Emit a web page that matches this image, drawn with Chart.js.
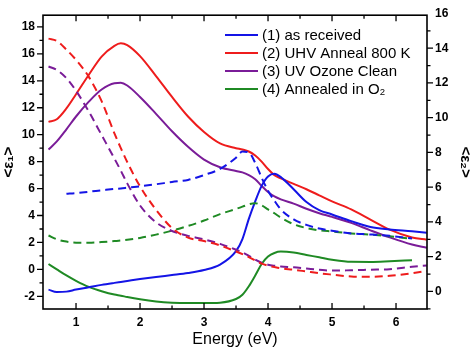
<!DOCTYPE html>
<html>
<head>
<meta charset="utf-8">
<script src="https://cdn.jsdelivr.net/npm/chart.js@4.4.1/dist/chart.umd.min.js"></script>
<style>
  html, body { margin: 0; padding: 0; background: #fff; }
  #wrap { width: 474px; height: 348px; position: relative; }
</style>
</head>
<body>
<div id="wrap"><canvas id="epsChart"></canvas></div>
<script>
// photon energy (eV) at which each curve was read
const energy = [0.57, 0.7, 0.85, 1.0, 1.2, 1.4, 1.6, 1.7, 1.8, 2.0, 2.25, 2.5, 2.75, 3.0, 3.25, 3.5,
                3.6, 3.7, 3.8, 3.9, 4.0, 4.1, 4.2, 4.4, 4.6, 4.8, 5.0, 5.3, 5.6, 5.9, 6.25, 6.48];

// <eps1>, left axis (solid)
const eps1Blue   = [-1.5, -1.68, -1.65, -1.5, -1.33, -1.15, -1.0, -0.93, -0.86, -0.72, -0.56, -0.42, -0.27, -0.05, 0.35, 1.35,
                    2.25, 3.75, 5.05, 6.2, 6.9, 7.1, 6.85, 5.95, 5.0, 4.4, 4.08, 3.58, 3.15, 2.97, 2.83, 2.72];
const eps1Red    = [10.95, 11.15, 11.95, 13.0, 14.45, 15.8, 16.6, 16.78, 16.65, 15.83, 14.35, 12.8, 11.35, 10.2, 9.35, 9.0,
                    8.9, 8.75, 8.45, 8.0, 7.45, 7.0, 6.75, 6.35, 5.95, 5.5, 5.05, 4.45, 3.7, 2.95, 2.37, 2.2];
const eps1Purple = [8.9, 9.5, 10.4, 11.35, 12.45, 13.35, 13.82, 13.85, 13.65, 12.8, 11.55, 10.25, 9.1, 8.15, 7.58, 7.3,
                    7.2, 7.0, 6.7, 6.2, 5.75, 5.42, 5.2, 4.88, 4.5, 4.17, 3.9, 3.45, 2.9, 2.38, 1.85, 1.6];
const eps1Green  = [0.4, 0.0, -0.45, -0.85, -1.3, -1.62, -1.87, -1.95, -2.05, -2.22, -2.38, -2.47, -2.5, -2.5, -2.47, -2.2,
                    -1.88, -1.25, -0.45, 0.4, 0.95, 1.22, 1.32, 1.25, 1.07, 0.9, 0.72, 0.56, 0.55, 0.6, 0.68, null];

// <eps2>, right axis (dashed)
const eps2Blue   = [null, null, 5.62, 5.66, 5.74, 5.82, 5.9, 5.93, 5.97, 6.05, 6.17, 6.3, 6.42, 6.7, 7.05, 7.7,
                    8.05, 8.0, 7.4, 6.55, 5.8, 5.22, 4.72, 4.15, 3.83, 3.62, 3.5, 3.34, 3.28, 3.2, 3.05, null];
const eps2Red    = [14.55, 14.42, 13.92, 13.33, 12.35, 10.95, 9.1, 8.25, 7.45, 6.05, 4.7, 3.65, 3.1, 2.9, 2.65, 2.3,
                    2.15, 1.98, 1.78, 1.6, 1.48, 1.4, 1.33, 1.25, 1.15, 1.05, 0.97, 0.86, 0.84, 0.9, 1.05, 1.18];
const eps2Purple = [12.95, 12.75, 12.28, 11.55, 10.35, 9.0, 7.65, 6.95, 6.22, 4.95, 3.98, 3.48, 3.2, 3.0, 2.74, 2.4,
                    2.25, 2.05, 1.83, 1.65, 1.54, 1.48, 1.44, 1.39, 1.32, 1.25, 1.2, 1.22, 1.25, 1.28, 1.42, 1.5];
const eps2Green  = [3.22, 3.0, 2.87, 2.81, 2.8, 2.84, 2.9, 2.93, 2.97, 3.08, 3.27, 3.5, 3.77, 4.08, 4.45, 4.75,
                    4.88, 5.02, 5.08, 4.95, 4.72, 4.5, 4.25, 3.87, 3.65, 3.52, 3.45, 3.34, 3.27, 3.18, 3.03, null];

const seriesLabels = ['(1) as received', '(2) UHV Anneal 800 K', '(3) UV Ozone Clean', '(4) Annealed in O\u2082'];
const energyTicks = [1, 2, 3, 4, 5, 6];
const eps1Ticks = [-2, 0, 2, 4, 6, 8, 10, 12, 14, 16, 18];
const eps2Ticks = [0, 2, 4, 6, 8, 10, 12, 14, 16];

const colors = ['#1414e6', '#ee1c1c', '#7a1c98', '#1f8a24'];
const FONT = "'Liberation Sans', Arial, sans-serif";
Chart.defaults.font.family = FONT;
Chart.defaults.color = '#000';

function toPoints(values) {
    return energy.map((x, i) => ({ x: x, y: values[i] }));
}

function lineSet(label, values, color, axis, dashed) {
    return {
        label: label,
        data: toPoints(values),
        yAxisID: axis,
        borderColor: color,
        borderWidth: 2,
        borderDash: dashed ? [8, 5] : [],
        pointRadius: 0,
        fill: false,
        cubicInterpolationMode: 'monotone',
        spanGaps: false
    };
}

const solid = [eps1Blue, eps1Red, eps1Purple, eps1Green];
const dashed = [eps2Blue, eps2Red, eps2Purple, eps2Green];
const datasets = [];
dashed.forEach((v, i) => datasets.push(lineSet(seriesLabels[i] + ' eps2', v, colors[i], 'y2', true)));
solid.forEach((v, i) => datasets.push(lineSet(seriesLabels[i], v, colors[i], 'y', false)));

// frame + tick marks (y ticks outward, x ticks inward on top and bottom)
const framePlugin = {
    id: 'frame',
    afterDraw(chart) {
        const { ctx, chartArea: a, scales } = chart;
        ctx.save();
        ctx.strokeStyle = '#000';
        ctx.lineWidth = 1.3;
        ctx.beginPath();
        const inY = (p) => p >= a.top - 0.5 && p <= a.bottom + 0.5;
        const inX = (p) => p >= a.left - 0.5 && p <= a.right + 0.5;
        for (let v = -3; v <= 19; v++) {
            const p = scales.y.getPixelForValue(v);
            if (!inY(p)) continue;
            const len = v % 2 === 0 ? 6 : 3.5;
            ctx.moveTo(a.left - len, p); ctx.lineTo(a.left, p);
        }
        for (let v = -1; v <= 16; v++) {
            const p = scales.y2.getPixelForValue(v);
            if (!inY(p)) continue;
            const len = v % 2 === 0 ? 6 : 3.5;
            ctx.moveTo(a.right, p); ctx.lineTo(a.right + len, p);
        }
        for (let v = 1; v <= 6.5; v += 0.5) {
            const p = scales.x.getPixelForValue(v);
            if (!inX(p)) continue;
            const len = Number.isInteger(v) ? 6 : 3.5;
            ctx.moveTo(p, a.bottom); ctx.lineTo(p, a.bottom - len);
            ctx.moveTo(p, a.top); ctx.lineTo(p, a.top + len);
        }
        ctx.stroke();
        ctx.lineWidth = 1.6;
        ctx.strokeRect(a.left, a.top, a.right - a.left, a.bottom - a.top);
        ctx.restore();
    }
};

// legend inside the plot, solid samples only
const legendPlugin = {
    id: 'insideLegend',
    afterDraw(chart) {
        const { ctx } = chart;
        const x0 = 225, x1 = 258, tx = 262, y0 = 35, dy = 18;
        ctx.save();
        ctx.font = '15px ' + FONT;
        ctx.textBaseline = 'middle';
        ctx.textAlign = 'left';
        seriesLabels.forEach((label, i) => {
            const y = y0 + i * dy;
            ctx.strokeStyle = colors[i];
            ctx.lineWidth = 2;
            ctx.beginPath();
            ctx.moveTo(x0, y); ctx.lineTo(x1, y);
            ctx.stroke();
            ctx.fillStyle = '#000';
            ctx.fillText(label, tx, y + 1);
        });
        ctx.restore();
    }
};

function fixedTicks(values) {
    return function (scale) {
        scale.ticks = values.map(v => ({ value: v }));
    };
}

new Chart(document.getElementById('epsChart'), {
    type: 'line',
    data: { datasets: datasets },
    options: {
        responsive: true,
        maintainAspectRatio: false,
        animation: false,
        layout: { padding: { top: 8, left: 0, right: 0, bottom: 0 } },
        plugins: { legend: { display: false }, tooltip: { enabled: false } },
        scales: {
            x: {
                type: 'linear',
                min: 0.484,
                max: 6.484,
                afterBuildTicks: fixedTicks(energyTicks),
                afterFit(scale) { scale.height = 39; },
                grid: { display: false, drawTicks: false },
                border: { display: false },
                ticks: { padding: 6, font: { size: 12, weight: 'bold' } },
                title: {
                    display: true,
                    text: 'Energy (eV)',
                    font: { size: 16, lineHeight: 1 },
                    padding: 0
                }
            },
            y: {
                position: 'left',
                min: -2.94,
                max: 18.87,
                afterBuildTicks: fixedTicks(eps1Ticks),
                afterFit(scale) { scale.width = 43; },
                grid: { display: false, drawTicks: false },
                border: { display: false },
                ticks: { padding: 8, font: { size: 12, weight: 'bold' } },
                title: {
                    display: true,
                    text: '<\u03b5\u2081>',
                    font: { size: 15, weight: 'bold', lineHeight: 1.2 },
                    padding: 0
                }
            },
            y2: {
                position: 'right',
                min: -1.01,
                max: 15.9,
                afterBuildTicks: fixedTicks(eps2Ticks),
                afterFit(scale) { scale.width = 47; },
                grid: { display: false, drawTicks: false },
                border: { display: false },
                ticks: { padding: 8, font: { size: 12, weight: 'bold' } },
                title: {
                    display: true,
                    text: '<\u03b5\u2082>',
                    font: { size: 15, weight: 'bold', lineHeight: 1.2 },
                    padding: 0
                }
            }
        }
    },
    plugins: [framePlugin, legendPlugin]
});
</script>
</body>
</html>
